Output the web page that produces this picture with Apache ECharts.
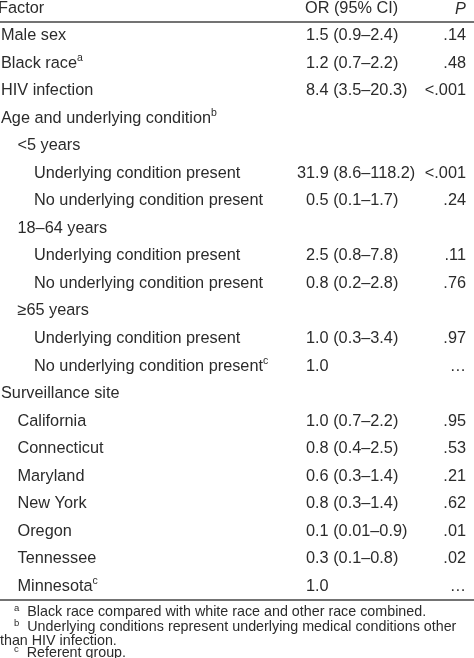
<!DOCTYPE html>
<html><head><meta charset="utf-8">
<script src="https://cdn.jsdelivr.net/npm/echarts@6/dist/echarts.min.js"></script>
<style>html,body{margin:0;padding:0;background:#fff}#c{width:474px;height:658px}</style>
</head><body><div id="c"></div>
<script>
const factors = ["Male sex","Black race{sup|a}","HIV infection","Age and underlying condition{sup|b}","<5 years","Underlying condition present","No underlying condition present","18–64 years","Underlying condition present","No underlying condition present","≥65 years","Underlying condition present","No underlying condition present{sup|c}","Surveillance site","California","Connecticut","Maryland","New York","Oregon","Tennessee","Minnesota{sup|c}"];
const indents = [0,0,0,0,1,2,2,1,2,2,1,2,2,0,1,1,1,1,1,1,1];
const orValues = ["1.5 (0.9–2.4)","1.2 (0.7–2.2)","8.4 (3.5–20.3)","","","31.9 (8.6–118.2)","0.5 (0.1–1.7)","","2.5 (0.8–7.8)","0.8 (0.2–2.8)","","1.0 (0.3–3.4)","1.0","","1.0 (0.7–2.2)","0.8 (0.4–2.5)","0.6 (0.3–1.4)","0.8 (0.3–1.4)","0.1 (0.01–0.9)","0.3 (0.1–0.8)","1.0"];
const pValues = [".14",".48","<.001","","",  "<.001",".24","",".11",".76","",".97","…","",".95",".53",".21",".62",".01",".02","…"];
const footnotes = ["{sup|a}  Black race compared with white race and other race combined.","{sup|b}  Underlying conditions represent underlying medical conditions other","than HIV infection.","{sup|c}  Referent group."];
const rowIdx = factors.map((_,i)=>String(i));
const FONT = '"Liberation Sans", Arial, sans-serif';
const COL = '#2b2b2b';
const rich = {sup:{fontSize:10.5, padding:[0,0,10,0], fill:COL, fontFamily:FONT}};
const frich = {sup:{fontSize:9.5, padding:[0,0,8,0], fill:COL, fontFamily:FONT}};
const chart = echarts.init(document.getElementById('c'));
chart.setOption({
  animation:false,
  grid:{left:0,right:0,top:22,bottom:58},
  xAxis:{type:'value',min:0,max:474,show:false},
  yAxis:{type:'category',data:rowIdx,inverse:true,show:false},
  series:[{type:'custom',data:factors.map((_,i)=>[0,i]),
    renderItem:function(params,api){
      const i = api.value(1);
      const y = api.coord([0,i])[1];
      const kids = [];
      kids.push({type:'text',style:{text:factors[i],x:1+indents[i]*16.5,y:y,verticalAlign:'middle',fontSize:16.3,fontFamily:FONT,fill:COL,rich:rich}});
      if(orValues[i]){
        const est = orValues[i].split(' ')[0];
        kids.push({type:'text',style:{text:orValues[i],x:est.length>3?297:306,y:y,verticalAlign:'middle',fontSize:16.3,fontFamily:FONT,fill:COL}});
      }
      if(pValues[i]){
        kids.push({type:'text',style:{text:pValues[i],x:466,y:y,align:'right',verticalAlign:'middle',fontSize:16.3,fontFamily:FONT,fill:COL}});
      }
      return {type:'group',children:kids};
    }}],
  graphic:[
    {type:'text',style:{text:'Factor',x:-2,y:9,verticalAlign:'middle',fontSize:16.3,fontFamily:FONT,fill:COL}},
    {type:'text',style:{text:'OR (95% CI)',x:305,y:9,verticalAlign:'middle',fontSize:16.3,fontFamily:FONT,fill:COL}},
    {type:'text',style:{text:'P',x:455,y:9,verticalAlign:'middle',fontSize:16.3,fontStyle:'italic',fontFamily:FONT,fill:COL}},
    {type:'line',shape:{x1:0,y1:22,x2:474,y2:22},style:{stroke:'#444',lineWidth:1.5}},
    {type:'line',shape:{x1:0,y1:600,x2:474,y2:600},style:{stroke:'#444',lineWidth:1.5}},
    {type:'text',style:{text:footnotes[0],x:14,y:612,verticalAlign:'middle',fontSize:14.3,fontFamily:FONT,fill:COL,rich:frich}},
    {type:'text',style:{text:footnotes[1],x:14,y:627,verticalAlign:'middle',fontSize:14.3,fontFamily:FONT,fill:COL,rich:frich}},
    {type:'text',style:{text:footnotes[2],x:0,y:641,verticalAlign:'middle',fontSize:14.3,fontFamily:FONT,fill:COL}},
    {type:'text',style:{text:footnotes[3],x:14,y:653,verticalAlign:'middle',fontSize:14.3,fontFamily:FONT,fill:COL,rich:frich}}
  ]
});
</script></body></html>
